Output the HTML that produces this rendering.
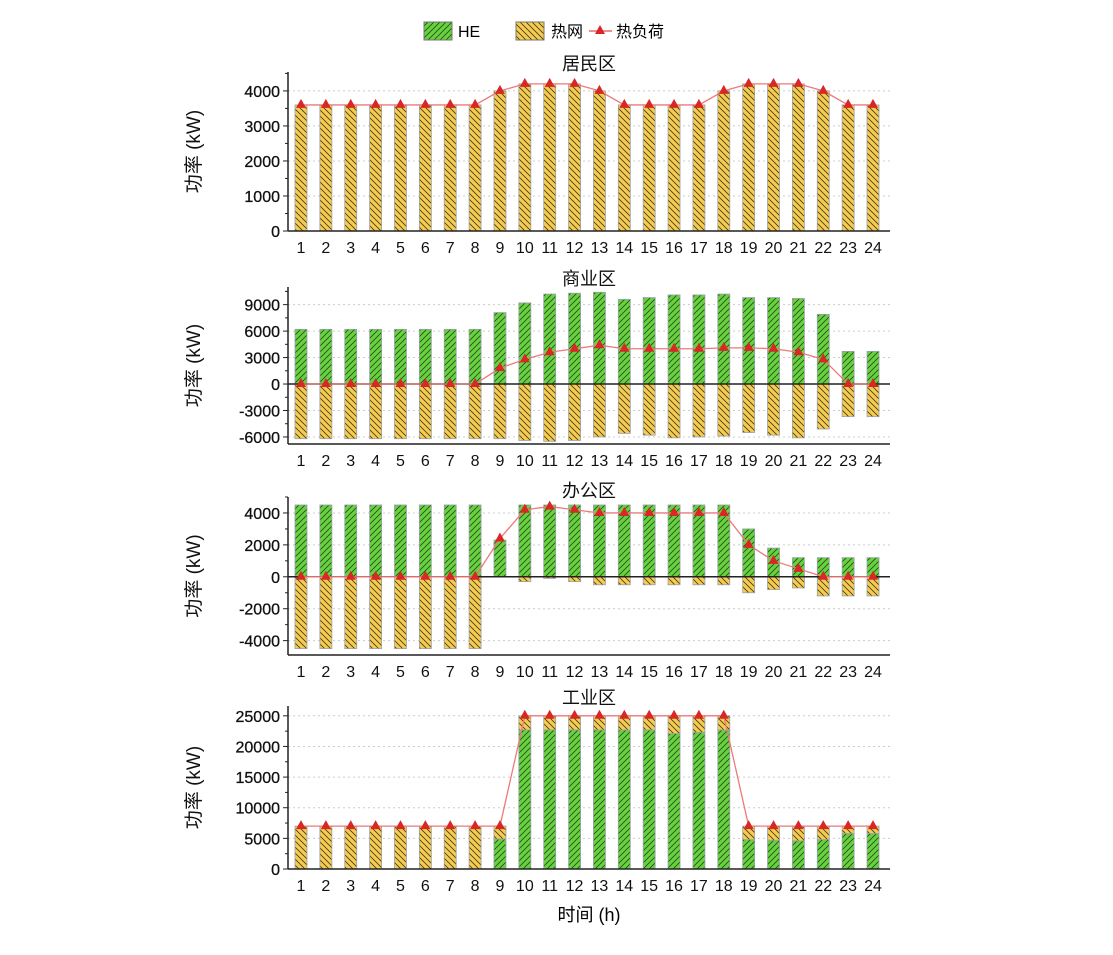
<!DOCTYPE html>
<html><head><meta charset="utf-8"><style>
body{margin:0;background:#fff;}
svg{display:block;font-family:"Liberation Sans","Noto Sans CJK SC",sans-serif;}
</style></head><body>
<svg id="chart" width="1113" height="955" xmlns="http://www.w3.org/2000/svg">
<defs>
<pattern id="hatchHE" patternUnits="userSpaceOnUse" width="6" height="6">
<rect width="6" height="6" fill="#66d23e"/><path d="M-1,7 L7,-1 M-1,1 L1,-1 M5,7 L7,5" stroke="#2a4a1a" stroke-width="0.8"/></pattern>
<pattern id="hatchGrid" patternUnits="userSpaceOnUse" width="6" height="6">
<rect width="6" height="6" fill="#f4cc52"/><path d="M-1,-1 L7,7 M5,-1 L7,1 M-1,5 L1,7" stroke="#4a3a10" stroke-width="0.8"/></pattern>
</defs>
<g>
<rect x="424" y="22" width="28" height="18" fill="url(#hatchHE)" stroke="#777"/>
<text x="458" y="37" font-size="16">HE</text>
<rect x="516" y="22" width="28" height="18" fill="url(#hatchGrid)" stroke="#777"/>
<text x="551" y="37" font-size="16">热网</text>
<line x1="589" y1="31" x2="612" y2="31" stroke="#e86a6a" stroke-width="1.5"/>
<path d="M600,25 L605,34 L595,34 Z" fill="#d92626"/>
<text x="616" y="37" font-size="16">热负荷</text>
</g>
<text x="589" y="921" font-size="18" text-anchor="middle">时间 (h)</text>
</svg>
<script>
const hours = [1,2,3,4,5,6,7,8,9,10,11,12,13,14,15,16,17,18,19,20,21,22,23,24];
// Residential
const resHE = [0,0,0,0,0,0,0,0,0,0,0,0,0,0,0,0,0,0,0,0,0,0,0,0];
const resGrid = [3600,3600,3600,3600,3600,3600,3600,3600,4000,4200,4200,4200,4000,3600,3600,3600,3600,4000,4200,4200,4200,4000,3600,3600];
const resLoad = [3600,3600,3600,3600,3600,3600,3600,3600,4000,4200,4200,4200,4000,3600,3600,3600,3600,4000,4200,4200,4200,4000,3600,3600];
const resTicks = [0,1000,2000,3000,4000];
// Commercial
const comHE = [6200,6200,6200,6200,6200,6200,6200,6200,8100,9200,10200,10300,10400,9600,9800,10100,10100,10200,9800,9800,9700,7900,3700,3700];
const comGrid = [-6200,-6200,-6200,-6200,-6200,-6200,-6200,-6200,-6200,-6400,-6500,-6400,-6000,-5600,-5800,-6100,-6000,-5900,-5500,-5800,-6100,-5100,-3700,-3700];
const comLoad = [0,0,0,0,0,0,0,0,1800,2800,3600,4000,4400,4000,4000,4000,4000,4100,4100,4000,3600,2800,0,0];
const comTicks = [-6000,-3000,0,3000,6000,9000];
// Office
const offHE = [4500,4500,4500,4500,4500,4500,4500,4500,2300,4500,4500,4500,4500,4500,4500,4500,4500,4500,3000,1800,1200,1200,1200,1200];
const offGrid = [-4500,-4500,-4500,-4500,-4500,-4500,-4500,-4500,0,-300,-100,-300,-500,-500,-500,-500,-500,-500,-1000,-800,-700,-1200,-1200,-1200];
const offLoad = [0,0,0,0,0,0,0,0,2400,4200,4400,4200,4000,4000,4000,4000,4000,4000,2000,1000,500,0,0,0];
const offTicks = [-4000,-2000,0,2000,4000];
// Industrial
const indHE = [0,0,0,0,0,0,0,0,4900,22700,22700,22700,22700,22700,22700,22100,22300,22700,4800,4700,4600,4800,5800,5800];
const indLoad = [7000,7000,7000,7000,7000,7000,7000,7000,7000,25000,25000,25000,25000,25000,25000,25000,25000,25000,7000,7000,7000,7000,7000,7000];
const indGrid = indLoad.map((v,i)=>v-indHE[i]);
const indTicks = [0,5000,10000,15000,20000,25000];

const svg = document.getElementById('chart');
const NS = 'http://www.w3.org/2000/svg';
function mk(tag, attrs, parent){const e=document.createElementNS(NS,tag);for(const k in attrs)e.setAttribute(k,attrs[k]);(parent||svg).appendChild(e);return e;}

const X0 = 288, X1 = 890;
function xPos(h){return 301 + (h-1)*24.87;}

const panels = [
 {key:'residential',title:'居民区',titleY:70,he:resHE,grid:resGrid,load:resLoad,ticks:resTicks,yMin:0,yMax:4540,pBot:231,pTop:72,minor:500,stacked:true},
 {key:'commercial',title:'商业区',titleY:285,he:comHE,grid:comGrid,load:comLoad,ticks:comTicks,yMin:-6800,yMax:11000,pBot:444,pTop:287,minor:1500,stacked:false},
 {key:'office',title:'办公区',titleY:497,he:offHE,grid:offGrid,load:offLoad,ticks:offTicks,yMin:-4900,yMax:5000,pBot:655,pTop:497,minor:1000,stacked:false},
 {key:'industrial',title:'工业区',titleY:704,he:indHE,grid:indGrid,load:indLoad,ticks:indTicks,yMin:0,yMax:26600,pBot:869,pTop:706,minor:2500,stacked:true}
];

panels.forEach(p=>{
  const g = mk('g',{});
  
  
  const y = v => p.pBot - (v-p.yMin)/(p.yMax-p.yMin)*(p.pBot-p.pTop);
  p.ticks.forEach(t=>{
    if(t===0) return;
    const gl = mk('line',{x1:X0,x2:X1,y1:y(t),y2:y(t),stroke:'#ccc','stroke-dasharray':'2,3','stroke-width':1},g);
    
    
  });
  const bw = 12;
  hours.forEach((h,i)=>{
    const cx = xPos(h);
    const he=p.he[i], gr=p.grid[i];
    if(he>0){const r=mk('rect',{x:cx-bw/2,y:y(he),width:bw,height:y(0)-y(he),fill:'url(#hatchHE)',stroke:'#9aa0b0','stroke-width':0.8},g);
      
      }
    if(p.stacked){
      if(gr>0){const r=mk('rect',{x:cx-bw/2,y:y(he+gr),width:bw,height:y(he)-y(he+gr),fill:'url(#hatchGrid)',stroke:'#9aa0b0','stroke-width':0.8},g);
        
        }
    } else {
      if(gr<0){const r=mk('rect',{x:cx-bw/2,y:y(0),width:bw,height:y(gr)-y(0),fill:'url(#hatchGrid)',stroke:'#9aa0b0','stroke-width':0.8},g);
        
        }
    }
  });
  if(p.yMin<0){
    const zl = mk('line',{x1:X0,x2:X1,y1:y(0),y2:y(0),stroke:'#222','stroke-width':1.5},g);
    
    
  }
  const pts = hours.map((h,i)=>xPos(h)+','+y(p.load[i])).join(' ');
  const pl = mk('polyline',{points:pts,fill:'none',stroke:'#ec7a7a','stroke-width':1.3},g);
  
  
  hours.forEach((h,i)=>{
    const cx=xPos(h), cy=y(p.load[i]);
    const m = mk('path',{d:`M${cx},${cy-6} L${cx+5},${cy+3} L${cx-5},${cy+3} Z`,fill:'#d92626'},g);
    
    
  });
  const ya = mk('line',{x1:X0,x2:X0,y1:p.pTop,y2:p.pBot,stroke:'#222','stroke-width':1.5},g);
  
  
  const xa = mk('line',{x1:X0,x2:X1,y1:p.pBot,y2:p.pBot,stroke:'#222','stroke-width':1.5},g);
  
  
  for(let v=Math.ceil(p.yMin/p.minor)*p.minor; v<=p.yMax; v+=p.minor){
    const len = p.ticks.includes(v)?5:3;
    mk('line',{x1:X0-len,x2:X0,y1:y(v),y2:y(v),stroke:'#222','stroke-width':1},g);
  }
  p.ticks.forEach(t=>{
    const tl = mk('text',{x:X0-8,y:y(t)+6,'font-size':16,'text-anchor':'end',fill:'#111',stroke:'#111','stroke-width':0.3},g);
    tl.textContent = t;
    
    
  });
  hours.forEach(h=>{
    const tl = mk('text',{x:xPos(h),y:p.pBot+22,'font-size':16,'text-anchor':'middle',fill:'#111'},g);
    tl.textContent = h;
    
    
  });
  const tt = mk('text',{x:589,y:p.titleY,'font-size':18,'text-anchor':'middle',fill:'#111'},g);
  tt.textContent = p.title;
  
  
  const midY = (p.pTop+p.pBot)/2;
  const yl = mk('text',{x:200,y:midY,'font-size':19,'text-anchor':'middle',fill:'#111',transform:`rotate(-90 200 ${midY})`},g);
  yl.textContent = '功率 (kW)';
  
  
});
</script>
</body></html>
